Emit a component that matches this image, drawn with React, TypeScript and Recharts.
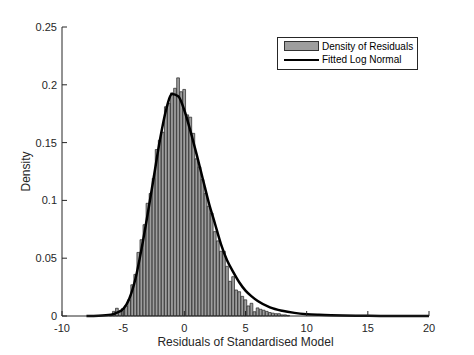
import { ComposedChart, Bar, Line, XAxis, YAxis } from 'recharts';

// histogram bins (centre of each 0.25-wide bin) and their densities
const BIN_CENTERS = [
  -6, -5.75, -5.5, -5.25, -5, -4.75, -4.5, -4.25, -4, -3.75, -3.5, -3.25,
  -3, -2.75, -2.5, -2.25, -2, -1.75, -1.5, -1.25, -1, -0.75, -0.5, -0.25,
  0, 0.25, 0.5, 0.75, 1, 1.25, 1.5, 1.75, 2, 2.25, 2.5, 2.75,
  3, 3.25, 3.5, 3.75, 4, 4.25, 4.5, 4.75, 5, 5.25, 5.5, 5.75,
  6, 6.25, 6.5, 6.75, 7, 7.25, 7.5, 7.75, 8, 8.25, 8.5,
];
const BIN_DENSITY = [
  0.001, 0.004, 0.0067, 0.004, 0.0065, 0.0087, 0.014, 0.027, 0.036, 0.055, 0.066, 0.079,
  0.0975, 0.106, 0.119, 0.144, 0.152, 0.159, 0.181, 0.184, 0.193, 0.197, 0.206, 0.194,
  0.196, 0.174, 0.172, 0.158, 0.136, 0.129, 0.118, 0.106, 0.095, 0.089, 0.073, 0.065,
  0.056, 0.056, 0.043, 0.03, 0.034, 0.0225, 0.021, 0.017, 0.014, 0.0087, 0.011, 0.0037,
  0.007, 0.0058, 0.005, 0.004, 0.003, 0.0025, 0.002, 0.002, 0.001, 0.001, 0.0005,
];

// fitted log normal curve
const FIT_X = [
  -8, -7, -6, -5.5, -5, -4.5, -4, -3.5, -3, -2.5, -2, -1.5, -1, -0.5, 0, 0.5, 1, 1.5,
  2, 2.5, 3, 3.5, 4, 4.5, 5, 5.5, 6, 7, 8, 9, 10, 11, 12, 14, 16, 20,
];
const FIT_Y = [
  0, 0.0002, 0.001, 0.003, 0.006, 0.015, 0.032, 0.058, 0.088, 0.12, 0.152, 0.178, 0.192, 0.19, 0.178, 0.16, 0.14, 0.119,
  0.098, 0.08, 0.062, 0.048, 0.038, 0.029, 0.022, 0.017, 0.013, 0.0075, 0.0045, 0.0027, 0.0016, 0.001, 0.0006, 0.0002, 0.0001, 0,
];

const X_TICKS = [-10, -5, 0, 5, 10, 15, 20];
const Y_TICKS = [0, 0.05, 0.1, 0.15, 0.2, 0.25];

type Row = { x: number; density?: number; fit?: number };

const rows: Record<string, Row> = {};
BIN_CENTERS.forEach((x, i) => {
  rows[x] = { ...(rows[x] || { x }), density: BIN_DENSITY[i] };
});
FIT_X.forEach((x, i) => {
  rows[x] = { ...(rows[x] || { x }), fit: FIT_Y[i] };
});
const data = Object.values(rows).sort((a, b) => a.x - b.x);

const FONT = '"Liberation Sans", Arial, Helvetica, sans-serif';
const INK = '#262626';
const W = 474;
const H = 355;
const Y_AXIS_W = 62;
const MARGIN = { top: 27, right: 45, left: 0, bottom: 0 };
const PLOT_W = W - MARGIN.left - MARGIN.right - Y_AXIS_W;
const BAR_PX = (PLOT_W / 30) * 0.25;

function FitLegend() {
  return (
    <div
      style={{
        position: 'absolute', left: 277, top: 37, width: 139, height: 31,
        border: `1px solid ${INK}`, background: '#fff',
        fontFamily: FONT, fontSize: 10, color: '#000', lineHeight: '12px',
      }}
    >
      <div style={{ position: 'absolute', left: 6, top: 3, width: 33, height: 8, background: '#9e9e9e', border: '1px solid #333' }} />
      <span style={{ position: 'absolute', left: 44, top: 3, whiteSpace: 'nowrap' }}>Density of Residuals</span>
      <div style={{ position: 'absolute', left: 6, top: 21, width: 35, height: 2, background: '#000' }} />
      <span style={{ position: 'absolute', left: 44, top: 16, whiteSpace: 'nowrap' }}>Fitted Log Normal</span>
    </div>
  );
}

export default function App() {
  return (
    <div style={{ position: 'absolute', left: 0, top: 0, width: W, height: H, background: '#fff' }}>
      <ComposedChart width={W} height={H} data={data} margin={MARGIN} barCategoryGap={0} barGap={0}>
        <XAxis
          dataKey="x"
          type="number"
          domain={[-10, 20]}
          ticks={X_TICKS}
          allowDataOverflow
          height={39}
          stroke={INK}
          tickSize={-5}
          tickMargin={13}
          tick={{ fill: INK, fontSize: 11, fontFamily: FONT }}
          label={{ value: 'Residuals of Standardised Model', position: 'insideBottom', offset: 9, fill: INK, fontSize: 12, fontFamily: FONT }}
        />
        <YAxis
          type="number"
          domain={[0, 0.25]}
          ticks={Y_TICKS}
          width={Y_AXIS_W}
          stroke={INK}
          tickSize={-5}
          tickMargin={10}
          tick={{ fill: INK, fontSize: 11, fontFamily: FONT }}
          label={{ value: 'Density', angle: -90, position: 'insideLeft', offset: 26, fill: INK, fontSize: 12, fontFamily: FONT, style: { textAnchor: 'middle' } }}
        />
        <Bar dataKey="density" fill="#9e9e9e" stroke="#222" strokeWidth={0.7} barSize={BAR_PX} isAnimationActive={false} />
        <Line
          dataKey="fit"
          type="monotone"
          stroke="#000"
          strokeWidth={2.5}
          dot={false}
          connectNulls
          isAnimationActive={false}
        />
      </ComposedChart>
      <FitLegend />
    </div>
  );
}
